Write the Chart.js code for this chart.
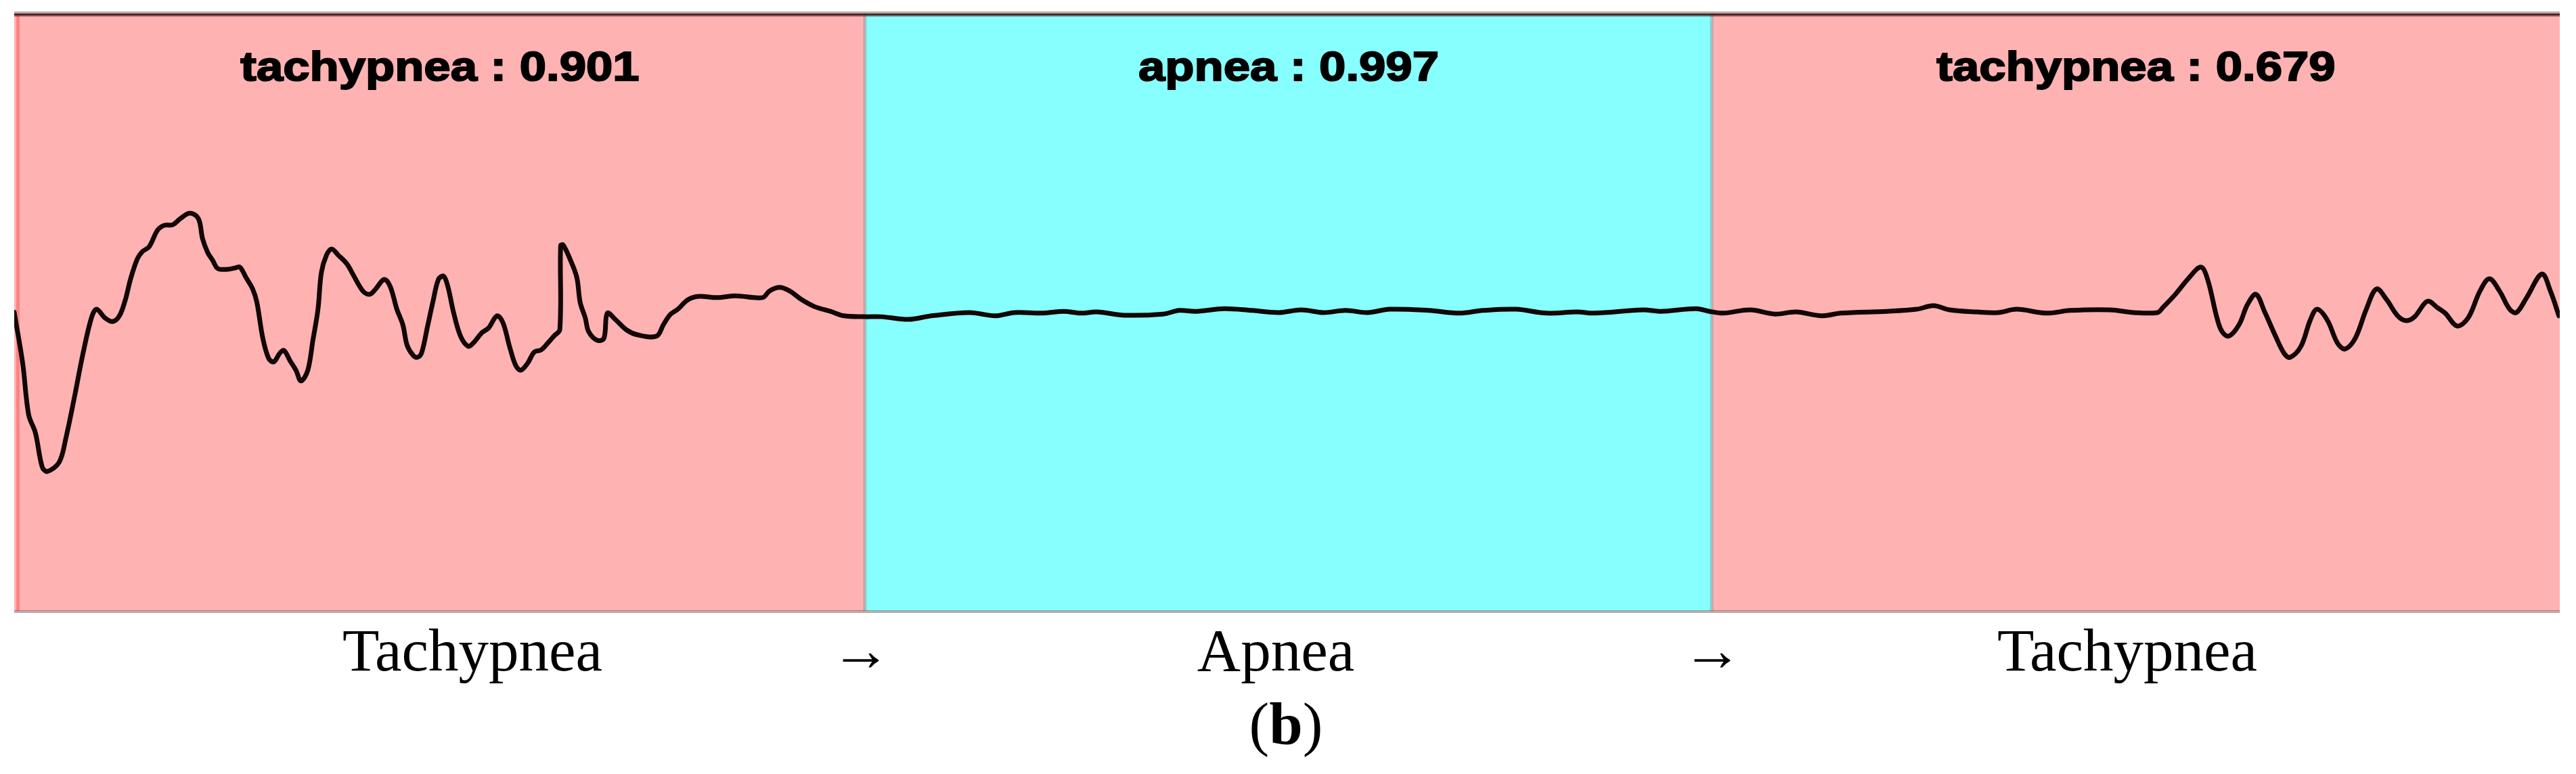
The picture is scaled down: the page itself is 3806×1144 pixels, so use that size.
<!DOCTYPE html>
<html>
<head>
<meta charset="utf-8">
<script src="https://cdn.jsdelivr.net/npm/chart.js@4.4.1/dist/chart.umd.min.js"></script>
<style>
  body { margin: 0; background: #fff; }
  #wrap { position: relative; width: 3806px; height: 1144px; overflow: hidden; }
  #chart { position: absolute; left: 0; top: 0; display: block; }
  .region-label {
    position: absolute; top: 67px; white-space: nowrap;
    font: bold 62px "Liberation Sans", Arial, sans-serif; line-height: 62px; color: #000;
    -webkit-text-stroke: 2px #000;
    transform: translateX(-50%) scaleX(1.14);
  }
  .cap {
    position: absolute; white-space: nowrap; transform: translateX(-50%);
    font-family: "Liberation Serif", "Times New Roman", serif; font-size: 89px; line-height: 89px; color: #000;
  }
</style>
</head>
<body>
<div id="wrap">
  <canvas id="chart" width="3806" height="1144"></canvas>
  <div class="cap" style="left:698px; top:917px">Tachypnea</div>
  <div class="cap" style="left:1272px; top:917px">→</div>
  <div class="cap" style="left:1885px; top:917px">Apnea</div>
  <div class="cap" style="left:2530px; top:917px">→</div>
  <div class="cap" style="left:3143px; top:917px">Tachypnea</div>
  <div class="cap" style="left:1900px; top:1026px">(<b>b</b>)</div>
</div>
<script>
// respiration signal, time in seconds, amplitude in arbitrary units
const timeSec = [
  0.00, 0.10, 0.17, 0.25, 0.33, 0.39, 0.53, 0.61, 0.71, 0.81, 0.91, 0.97, 1.07, 1.16, 1.24, 1.31, 1.37, 1.45, 1.51, 1.59, 1.69,
  1.77, 1.87, 1.96, 2.07, 2.17, 2.22, 2.28, 2.34, 2.40, 2.52, 2.60, 2.66, 2.73, 2.81, 2.86, 2.93, 3.00, 3.06, 3.13, 3.18, 3.25,
  3.32, 3.38, 3.46, 3.52, 3.58, 3.62, 3.68, 3.74, 3.82, 3.92, 4.00, 4.11, 4.19, 4.26, 4.36, 4.43, 4.51, 4.58, 4.63, 4.70, 4.75,
  4.80, 4.87, 4.94, 5.00, 5.06, 5.11, 5.18, 5.26, 5.35, 5.41, 5.51, 5.59, 5.69, 5.76, 5.84, 5.91, 5.97, 6.05, 6.13, 6.21, 6.29,
  6.36, 6.43, 6.44, 6.47, 6.55, 6.63, 6.67, 6.73, 6.77,
  6.87, 6.95, 6.99, 7.09, 7.22, 7.35, 7.57, 7.65, 7.73, 7.82, 7.94, 8.07, 8.29, 8.50, 8.82, 8.90, 9.02, 9.14, 9.27, 9.43, 9.62,
  9.78, 10.02,
  10.22, 10.54, 10.81, 11.26, 11.56, 11.79, 12.11, 12.37, 12.57, 12.76, 13.09, 13.54, 13.73, 13.93, 14.26, 14.59, 14.90, 15.17,
  15.43, 15.69, 15.95, 16.21, 16.67, 17.03, 17.31, 17.70, 18.06, 18.42, 18.62, 19.20, 19.40, 19.82, 19.98,
  20.14, 20.46, 20.75, 21.00, 21.30, 21.53, 22.07, 22.42, 22.62, 22.81, 23.13, 23.38, 23.60, 23.95, 24.23, 24.70, 24.98, 25.26,
  25.32, 25.47, 25.62, 25.77, 25.85, 25.96, 26.02, 26.10, 26.22, 26.32, 26.42, 26.52, 26.65, 26.75, 26.82, 26.95, 27.06, 27.14,
  27.26, 27.38, 27.47, 27.59, 27.72, 27.84, 27.96, 28.09, 28.19, 28.29, 28.44, 28.56, 28.65, 28.79, 28.92, 29.06, 29.17, 29.29,
  29.41, 29.49, 29.61, 29.79, 29.89, 29.99
];
const signal = [
  0.000, -0.171, -0.343, -0.404, -0.518, -0.533, -0.502, -0.420, -0.284, -0.139, -0.019, 0.010, -0.019, -0.031, -0.012, 0.042, 0.110, 0.178, 0.203, 0.219, 0.275,
  0.291, 0.293, 0.314, 0.332, 0.314, 0.246, 0.200, 0.173, 0.146, 0.144, 0.148, 0.151, 0.117, 0.078, 0.033, -0.087, -0.155, -0.166, -0.137, -0.128, -0.162,
  -0.194, -0.230, -0.194, -0.094, 0.010, 0.133, 0.191, 0.212, 0.191, 0.162, 0.123, 0.071, 0.060, 0.078, 0.110, 0.087, 0.010, -0.042, -0.110, -0.144, -0.151,
  -0.137, -0.049, 0.042, 0.110, 0.121, 0.087, -0.003, -0.080, -0.114, -0.103, -0.069, -0.053, -0.012, -0.035, -0.117, -0.178, -0.194, -0.171, -0.133, -0.126, -0.103,
  -0.080, -0.058, 0.223, 0.225, 0.178, 0.117, 0.033, -0.019, -0.065,
  -0.094, -0.087, -0.003, -0.026, -0.060, -0.076, -0.080, -0.042, -0.008, 0.010, 0.042, 0.053, 0.049, 0.055, 0.049, 0.071, 0.083, 0.071, 0.044, 0.019, 0.003,
  -0.012, -0.015,
  -0.015, -0.024, -0.012, -0.001, -0.012, -0.001, -0.003, 0.003, -0.003, 0.001, -0.010, -0.006, 0.006, 0.003, 0.012, 0.006, -0.001, 0.008,
  -0.001, 0.006, -0.001, 0.010, 0.006, -0.003, 0.006, 0.010, -0.003, 0.001, -0.003, 0.008, 0.003, 0.012, 0.003,
  -0.003, 0.008, -0.006, 0.001, -0.012, -0.003, 0.003, 0.010, 0.022, 0.008, 0.001, -0.001, 0.010, -0.003, 0.006, 0.008, -0.001, -0.001,
  0.015, 0.060, 0.112, 0.151, 0.110, -0.019, -0.065, -0.080, -0.042, 0.026, 0.060, 0.003, -0.080, -0.137, -0.151, -0.114, -0.026, 0.010,
  -0.026, -0.103, -0.123, -0.087, 0.010, 0.078, 0.042, -0.012, -0.028, -0.015, 0.037, 0.015, -0.003, -0.046, -0.019, 0.071, 0.112, 0.071,
  0.010, -0.001, 0.049, 0.128, 0.071, -0.012
];

// classified windows
const regionBounds = [0, 10.03, 20.01, 30];
const regionClasses = ['tachypnea', 'apnea', 'tachypnea'];
const regionScores = ['0.901', '0.997', '0.679'];
const regionColors = { tachypnea: '#ffb2b2', apnea: '#88ffff' };

const points = timeSec.map((t, i) => ({ x: t, y: signal[i] }));

const regionPlugin = {
  id: 'regions',
  beforeDatasetsDraw(chart) {
    const { ctx, chartArea: a, scales: { x } } = chart;
    ctx.save();
    regionClasses.forEach((cls, i) => {
      const x0 = x.getPixelForValue(regionBounds[i]);
      const x1 = x.getPixelForValue(regionBounds[i + 1]);
      ctx.fillStyle = regionColors[cls];
      ctx.fillRect(x0, a.top, x1 - x0, a.bottom - a.top);
    });
    // grey seams between windows
    ctx.fillStyle = 'rgba(140,140,140,0.45)';
    for (let i = 1; i < regionBounds.length - 1; i++) {
      const xb = x.getPixelForValue(regionBounds[i]);
      ctx.fillRect(xb - 3, a.top, 5, a.bottom - a.top);
    }
    // red edge on the left
    ctx.fillStyle = 'rgba(255,70,70,0.45)';
    ctx.fillRect(a.left + 3, a.top, 5, a.bottom - a.top);
    ctx.restore();
  },
  afterDatasetsDraw(chart) {
    const { ctx, chartArea: a } = chart;
    ctx.save();
    // top frame
    ctx.fillStyle = 'rgba(120,100,100,0.55)';
    ctx.fillRect(a.left, a.top - 3, a.right - a.left, 3);
    ctx.fillStyle = 'rgba(60,20,20,0.9)';
    ctx.fillRect(a.left, a.top, a.right - a.left, 3);
    ctx.fillStyle = 'rgba(90,30,30,0.35)';
    ctx.fillRect(a.left, a.top + 3, a.right - a.left, 2);
    // bottom band
    ctx.fillStyle = 'rgba(50,0,0,0.32)';
    ctx.fillRect(a.left, a.bottom - 1, a.right - a.left, 4);
    ctx.restore();
  }
};

const chart = new Chart(document.getElementById('chart'), {
  type: 'line',
  data: {
    datasets: [{
      data: points,
      borderColor: '#120606',
      borderWidth: 7,
      borderJoinStyle: 'round',
      borderCapStyle: 'round',
      pointRadius: 0,
      fill: false,
      tension: 0.35
    }]
  },
  options: {
    responsive: false,
    devicePixelRatio: 1,
    animation: false,
    layout: { padding: { left: 21, right: 24, top: 20, bottom: 241 } },
    plugins: { legend: { display: false }, tooltip: { enabled: false } },
    scales: {
      x: { type: 'linear', min: 0, max: 30, display: false },
      y: { min: -1, max: 1, display: false }
    }
  },
  plugins: [regionPlugin]
});

// window labels centred over each region
const wrap = document.getElementById('wrap');
regionClasses.forEach((cls, i) => {
  const mid = (regionBounds[i] + regionBounds[i + 1]) / 2;
  const el = document.createElement('div');
  el.className = 'region-label';
  el.textContent = cls + ' : ' + regionScores[i];
  el.style.left = chart.scales.x.getPixelForValue(mid) + 'px';
  wrap.appendChild(el);
});
</script>
</body>
</html>
